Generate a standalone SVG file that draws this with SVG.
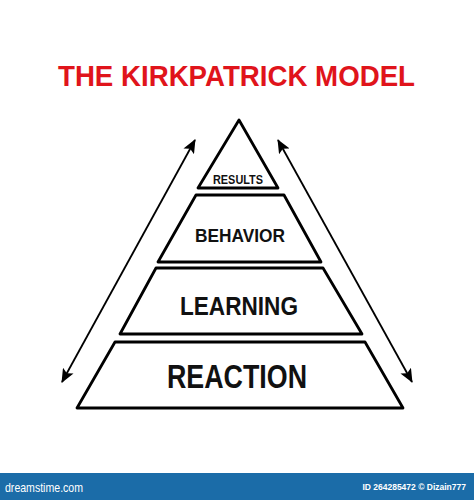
<svg xmlns="http://www.w3.org/2000/svg" width="474" height="500" viewBox="0 0 474 500">
  <defs>
    <marker id="ah" markerUnits="userSpaceOnUse" markerWidth="14" markerHeight="12" refX="13" refY="6" orient="auto-start-reverse">
      <path d="M0,0 L14,6 L0,12 L3,6 Z" fill="#000"/>
    </marker>
  </defs>
  <style>
    .tier { fill: #fff; stroke: #000; stroke-width: 2.8; stroke-linejoin: round; }
    .lbl { font-family: "Liberation Sans", Arial, sans-serif; font-weight: bold; fill: #111; text-anchor: middle; }
    .conn { stroke: #000; stroke-width: 1.8; fill: none; }
  </style>
  <rect x="0" y="0" width="474" height="500" fill="#fff"/>

  <g id="title">
    <text x="236.5" y="86" font-family="Liberation Sans, Arial, sans-serif" font-weight="bold" font-size="29" fill="#e0141b" text-anchor="middle" textLength="357" lengthAdjust="spacingAndGlyphs">THE KIRKPATRICK MODEL</text>
  </g>

  <g id="connectors">
    <line class="conn" x1="62" y1="382" x2="195" y2="140" marker-start="url(#ah)" marker-end="url(#ah)"/>
    <line class="conn" x1="412" y1="382" x2="278" y2="140" marker-start="url(#ah)" marker-end="url(#ah)"/>
  </g>

  <g id="results">
    <polygon class="tier" points="239,120 278,188 198,188"/>
    <text class="lbl" x="238" y="184" font-size="12" textLength="50" lengthAdjust="spacingAndGlyphs">RESULTS</text>
  </g>

  <g id="behavior">
    <polygon class="tier" points="196,195 284,195 321,262 158,262"/>
    <text class="lbl" x="240" y="242" font-size="19" textLength="90" lengthAdjust="spacingAndGlyphs">BEHAVIOR</text>
  </g>

  <g id="learning">
    <polygon class="tier" points="156,268 323,268 362,334 120,334"/>
    <text class="lbl" x="239" y="315" font-size="26" textLength="118" lengthAdjust="spacingAndGlyphs">LEARNING</text>
  </g>

  <g id="reaction">
    <polygon class="tier" points="115,342 365,342 403,408 77,408"/>
    <text class="lbl" x="237" y="388" font-size="33" textLength="140" lengthAdjust="spacingAndGlyphs">REACTION</text>
  </g>

  <g id="footer">
    <rect x="0" y="473" width="474" height="27" fill="#1b6ca8"/>
    <text x="5" y="492" font-family="Liberation Sans, Arial, sans-serif" font-size="13" fill="#fff" textLength="78" lengthAdjust="spacingAndGlyphs">dreamstime.com</text>
    <text x="466" y="490" font-family="Liberation Sans, Arial, sans-serif" font-weight="bold" font-size="8.5" fill="#fff" text-anchor="end">ID 264285472 © Dizain777</text>
  </g>
</svg>
